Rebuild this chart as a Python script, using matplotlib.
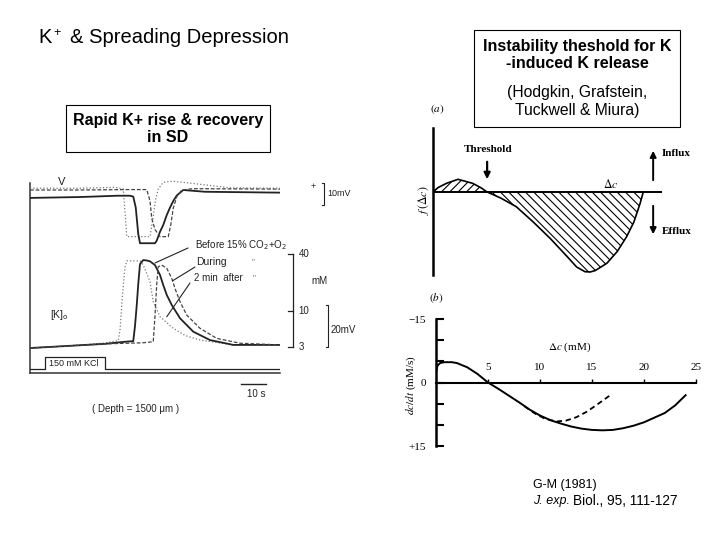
import matplotlib
matplotlib.use('Agg')
import matplotlib.pyplot as plt
from matplotlib.patches import Rectangle

W, H = 720, 540

# ---- left panel : SD traces, time in s ----
# extracellular DC potential (mV, relative to rest)
v_dot_t = [0, 20, 34, 37.3, 38.0, 38.7, 48, 49.3, 50.3, 51.3, 53.3, 57, 65, 80, 100]
v_dot = [0.8, 0.8, 1.2, 0.5, -10, -21.2, -21.2, -12, -4, 0.5, 3.5, 4.0, 3.0, 1.0, 0.8]
v_sol_t = [0, 20, 35, 40, 41.3, 42.3, 43.3, 44, 50, 50.7, 52, 53.3, 54.7, 56, 57.3, 58.7, 61.3, 70, 100]
v_sol = [-3.6, -3.2, -2.6, -2.6, -3.0, -8, -20, -24.2, -24.2, -23, -19, -15.9, -11.4, -8, -5, -2.5, 0, -0.8, -1.2]
v_dash_t = [0, 20, 40, 46.7, 48.0, 48.7, 50, 52, 55.3, 56.3, 57.3, 58.7, 60.7, 65, 100]
v_dash = [0, 0, 0.2, 0.2, -5, -12.9, -18, -21.2, -21.2, -15.9, -8.3, -3, 0.0, 0.6, 0.4]

# K electrode signal (mV above the 3 mM level)
k_dot_t = [0, 15, 30, 35.3, 36, 37, 38, 38.7, 44, 45.3, 46.7, 48, 49.3, 52, 57.3, 62, 68, 81.3, 100]
k_dot = [-0.5, 0.5, 1.9, 3.0, 8, 25, 38, 41.0, 41.0, 39, 35, 31.1, 21.6, 14.4, 8.9, 5.5, 3.3, 1.0, 1.0]
k_sol_t = [0, 15, 30, 38, 41.3, 42, 42.7, 43.3, 44, 45.3, 46.7, 48, 50, 52, 53.3, 54.7, 56.7, 60, 65.3, 72, 81.3, 100]
k_sol = [-0.5, 0.5, 1.5, 2.5, 2.8, 10, 20, 30, 39.5, 41.4, 41.2, 40.8, 39, 34.3, 29.5, 24.8, 20, 13.7, 7.3, 3.3, 1.0, 1.0]
k_dash_t = [0, 30, 45, 49.3, 50, 50.7, 51.3, 52.7, 54.7, 56.7, 58, 60, 62.7, 68, 74.7, 84, 100]
k_dash = [-0.5, 1.5, 2.0, 2.5, 15, 30, 38.2, 39.0, 37.5, 32.7, 27.9, 21.6, 15.2, 8.9, 4.1, 1.8, 1.0]

# 150 mM KCl application
stim_t = [0, 6, 6, 30, 30, 100]
stim = [0, 0, 1, 1, 0, 0]

# calibration of the K electrode
k_cal_mM = ['3', '10', '40']
k_cal_mV = [0, 17.1, 44.3]

# ---- right panel (a): f(dc) ----
fa_x = [0, 0.5, 1.3, 2.4, 3.8, 4.6, 5.2, 6.5, 8.0, 9.6, 11.25, 12.9, 13.8, 14.6, 15.1, 15.6, 16.7, 17.7, 18.6, 19.3, 19.9, 20.2]
fa_y = [0, 0.45, 0.87, 1.27, 0.87, 0.43, 0, -0.6, -1.47, -2.97, -4.63, -6.47, -7.5, -7.97, -8.0, -7.85, -7.13, -5.95, -4.47, -3.0, -1.13, 0]
threshold = 5.2

# ---- right panel (b): dc/dt against dc (mM) ----
b_x = [0, 0.15, 0.4, 0.8, 1.5, 2, 3, 4, 5, 6, 7, 8, 9, 10, 11, 12, 13, 14, 15, 16, 17, 18, 19, 20, 21, 22, 23, 24]
b_solid = [-2.5, -4.0, -4.6, -4.8, -4.8, -4.6, -3.6, -2.0, 0.0, 1.5, 3.1, 4.7, 6.4, 7.8, 8.9, 9.7, 10.4, 10.9, 11.2, 11.3, 11.2, 10.8, 10.2, 9.4, 8.3, 7.2, 5.4, 3.0]
b_dash_x = [8.5, 9.5, 10.5, 11.6, 12.5, 13.5, 14.5, 15.5, 16.7]
b_dash = [5.6, 7.3, 8.6, 9.2, 9.0, 8.2, 6.9, 5.2, 3.1]
b_yticks = [-15, -10, -5, 0, 5, 10, 15]
b_ylabels = ['\u221215', '', '', '0', '', '', '+15']
b_xticks = [5, 10, 15, 20, 25]

SANS = 'Liberation Sans'
SERIF = 'Liberation Serif'
INK = '#222222'
plt.rcParams['hatch.color'] = 'black'
plt.rcParams['hatch.linewidth'] = 0.8

fig = plt.figure(figsize=(W / 100, H / 100), dpi=100)


def px_axes(x0, y0, x1, y1):
    ax = fig.add_axes([x0 / W, 1 - y1 / H, (x1 - x0) / W, (y1 - y0) / H])
    ax.patch.set_visible(False)
    return ax


def ftext(x, y, s, **kw):
    kw.setdefault('family', SANS)
    kw.setdefault('va', 'center')
    return fig.text(x / W, 1 - y / H, s, **kw)


def fbox(x0, y0, x1, y1):
    fig.add_artist(Rectangle((x0 / W, 1 - y1 / H), (x1 - x0) / W, (y1 - y0) / H,
                             transform=fig.transFigure, fill=False, lw=0.8, ec='black'))


# slide texts
ftext(38, 43, 'K', fontsize=14.5, va='baseline')
ftext(53, 33, '+', fontsize=9)
ftext(70, 43, '& Spreading Depression', fontsize=14.5, va='baseline')
fbox(66, 105, 270, 152)
ftext(168, 120, 'Rapid K+ rise & recovery', fontsize=11.5, weight='bold', ha='center')
ftext(168, 138, 'in SD', fontsize=11.5, weight='bold', ha='center')
fbox(474, 30, 680, 127)
ftext(577, 46, 'Instability theshold for K', fontsize=11.5, weight='bold', ha='center')
ftext(577, 64, '-induced K release', fontsize=11.5, weight='bold', ha='center')
ftext(577, 92, '(Hodgkin, Grafstein,', fontsize=11.3, ha='center')
ftext(577, 111, 'Tuckwell & Miura)', fontsize=11.3, ha='center')
ftext(533, 485, 'G-M (1981)', fontsize=9)
ftext(533, 501, 'J. exp.', fontsize=9, style='italic')
ftext(573, 501, 'Biol., 95, 111-127', fontsize=9.8)

# ---- left panel ----
ax_s = px_axes(30, 183, 280, 373)
ax_s.set_xlim(0, 100)
ax_s.set_ylim(-0.33, 15.5)
ax_s.plot(stim_t, stim, color=INK, lw=0.9)
for s in ['top', 'right']:
    ax_s.spines[s].set_visible(False)
for s in ['left', 'bottom']:
    ax_s.spines[s].set_color('#333333')
    ax_s.spines[s].set_linewidth(1.1)
ax_s.set_xticks([])
ax_s.set_yticks([])
ax_s.text(7.5, 0.5, '150 mM KCl', fontsize=6.5, family=SANS, color=INK, va='center')
# 10 s time bar
ax_s.plot([84.4, 94.4], [-1.25, -1.25], color=INK, lw=1, clip_on=False)
ftext(256, 394, '10 s', fontsize=7, ha='center', color=INK)

ax_v = px_axes(30, 175, 280, 255)
ax_v.set_xlim(0, 100)
ax_v.set_ylim(-29.55, 6.82)
ax_v.axis('off')
ax_v.plot(v_dot_t, v_dot, color='#777777', lw=0.9, ls=':')
ax_v.plot(v_sol_t, v_sol, color=INK, lw=1.3)
ax_v.plot(v_dash_t, v_dash, color='#444444', lw=0.9, ls=(0, (3, 1.5)))
# 10 mV bar
ax_v.plot([116.6, 117.6, 117.6, 116.6], [3.2, 3.2, -6.8, -6.8], color=INK, lw=0.8, clip_on=False)
ftext(62, 182, 'V', fontsize=8, ha='center', color=INK)
ftext(313, 186, '+', fontsize=6.5, ha='center', color=INK)
ftext(327, 194, '10mV', fontsize=6.5, color=INK)

ax_k = px_axes(30, 250, 280, 352)
ax_k.set_xlim(0, 100)
ax_k.set_ylim(-2.38, 46.19)
ax_k.axis('off')
ax_k.plot(k_dot_t, k_dot, color='#777777', lw=0.9, ls=':')
ax_k.plot(k_sol_t, k_sol, color=INK, lw=1.3)
ax_k.plot(k_dash_t, k_dash, color='#444444', lw=0.9, ls=(0, (3, 1.5)))
# mM calibration bracket
ax_k.plot([105.2, 105.2], [k_cal_mV[0], k_cal_mV[-1]], color=INK, lw=0.9, clip_on=False)
for lab, val in zip(k_cal_mM, k_cal_mV):
    ax_k.plot([103.2, 105.2], [val, val], color=INK, lw=0.9, clip_on=False)
    ax_k.text(107.5, val, lab, fontsize=7, family=SANS, color=INK, va='center', clip_on=False)
ax_k.text(112.5, 31.4, 'mM', fontsize=7, family=SANS, color=INK, va='center')
# 20 mV bar
ax_k.plot([118.2, 119.2, 119.2, 118.2], [20, 20, 0, 0], color=INK, lw=0.8, clip_on=False)
ftext(331, 330, '20mV', fontsize=7, color=INK)
ftext(50, 315, r'[K]$_{\rm o}$', fontsize=7.5, color=INK)
ftext(92, 409, '( Depth = 1500 \u03bcm )', fontsize=7, color=INK)

# condition labels with leader lines
ftext(195, 245, r'Before 15% CO$_2$+O$_2$', fontsize=7, color=INK)
ftext(196, 262, 'During', fontsize=7.5, color=INK)
ftext(194, 278, '2 min  after', fontsize=7, color=INK)
ftext(252, 262, '"', fontsize=6, color='#555555')
ftext(253, 278, '"', fontsize=6, color='#555555')
leaders = [((50, 40.0), (188, 248)), ((57, 31.5), (195, 267)), ((54.7, 14.4), (190, 283))]
for xy, start in leaders:
    ax_k.annotate('', xy=xy, xycoords='data', xytext=(start[0], H - start[1]),
                  textcoords='figure pixels',
                  arrowprops=dict(arrowstyle='-', lw=0.8, color=INK, shrinkA=0, shrinkB=0))

# ---- right panel (a) ----
ax_a = px_axes(433, 128, 662, 275)
ax_a.set_xlim(0, 22)
ax_a.set_ylim(-8.3, 6.4)
for s in ['top', 'right', 'bottom']:
    ax_a.spines[s].set_visible(False)
ax_a.spines['left'].set_linewidth(1.8)
ax_a.set_xticks([])
ax_a.set_yticks([])
ax_a.axhline(0, color='black', lw=1.4)
ax_a.plot(fa_x, fa_y, color='black', lw=1.2)
pos = [v >= 0 for v in fa_y]
neg = [v <= 0 for v in fa_y]
ax_a.fill_between(fa_x, fa_y, 0, where=pos, interpolate=True, facecolor='none',
                  edgecolor='black', hatch='////', lw=0)
ax_a.fill_between(fa_x, fa_y, 0, where=neg, interpolate=True, facecolor='none',
                  edgecolor='black', hatch='\\\\\\\\', lw=0)
ax_a.annotate('', xy=(threshold, 1.0), xytext=(threshold, 3.3),
              arrowprops=dict(arrowstyle='-|>', lw=1.6, color='black', mutation_scale=9))
ax_a.annotate('', xy=(21.15, 4.4), xytext=(21.15, 0.9), annotation_clip=False,
              arrowprops=dict(arrowstyle='-|>', lw=1.4, color='black', mutation_scale=9))
ax_a.annotate('', xy=(21.15, -4.5), xytext=(21.15, -1.1), annotation_clip=False,
              arrowprops=dict(arrowstyle='-|>', lw=1.4, color='black', mutation_scale=9))
ftext(488, 149, 'Threshold', fontsize=8, family=SERIF, weight='bold', ha='center')
ftext(662, 153, 'Influx', fontsize=8, family=SERIF, weight='bold')
ftext(662, 232, 'Efflux', fontsize=8, family=SERIF, weight='bold')
ftext(611, 184, r'$\Delta c$', fontsize=8.5, ha='center', math_fontfamily='stix')
ftext(424, 200, r'$f\,(\Delta c)$', fontsize=8.5, ha='center', rotation=90, math_fontfamily='stix')
ftext(437, 109, r'$(a)$', fontsize=8, ha='center', math_fontfamily='stix')

# ---- right panel (b) ----
ax_b = px_axes(436, 319, 696, 446)
ax_b.set_xlim(0, 25)
ax_b.set_ylim(15, -15)
for s in ['top', 'right']:
    ax_b.spines[s].set_visible(False)
ax_b.spines['left'].set_linewidth(1.8)
ax_b.spines['bottom'].set_position(('data', 0))
ax_b.spines['bottom'].set_linewidth(1.5)
ax_b.set_yticks(b_yticks)
ax_b.set_yticklabels(b_ylabels)
ax_b.tick_params(axis='y', direction='in', length=6, width=1.5, labelsize=8, pad=7)
for lbl in ax_b.get_yticklabels():
    lbl.set_fontfamily(SERIF)
ax_b.set_xticks(b_xticks)
ax_b.set_xticklabels([])
ax_b.tick_params(axis='x', direction='in', length=3, width=1)
for v in b_xticks:
    ax_b.text(v, -3.6, str(v), fontsize=8, family=SERIF, ha='center', va='center')
ax_b.plot(b_x, b_solid, color='black', lw=1.4)
ax_b.plot(b_dash_x, b_dash, color='black', lw=1.3, ls=(0, (3, 2)))
ftext(570, 347, r'$\Delta c$ (mM)', fontsize=8, family=SERIF, ha='center', math_fontfamily='stix')
ftext(411, 385, r'$dc/dt$ (mM/s)', fontsize=8, family=SERIF, ha='center', rotation=90,
      math_fontfamily='stix')
ftext(436, 298, r'$(b)$', fontsize=8, ha='center', math_fontfamily='stix')

fig.savefig('out.png', dpi=100)
